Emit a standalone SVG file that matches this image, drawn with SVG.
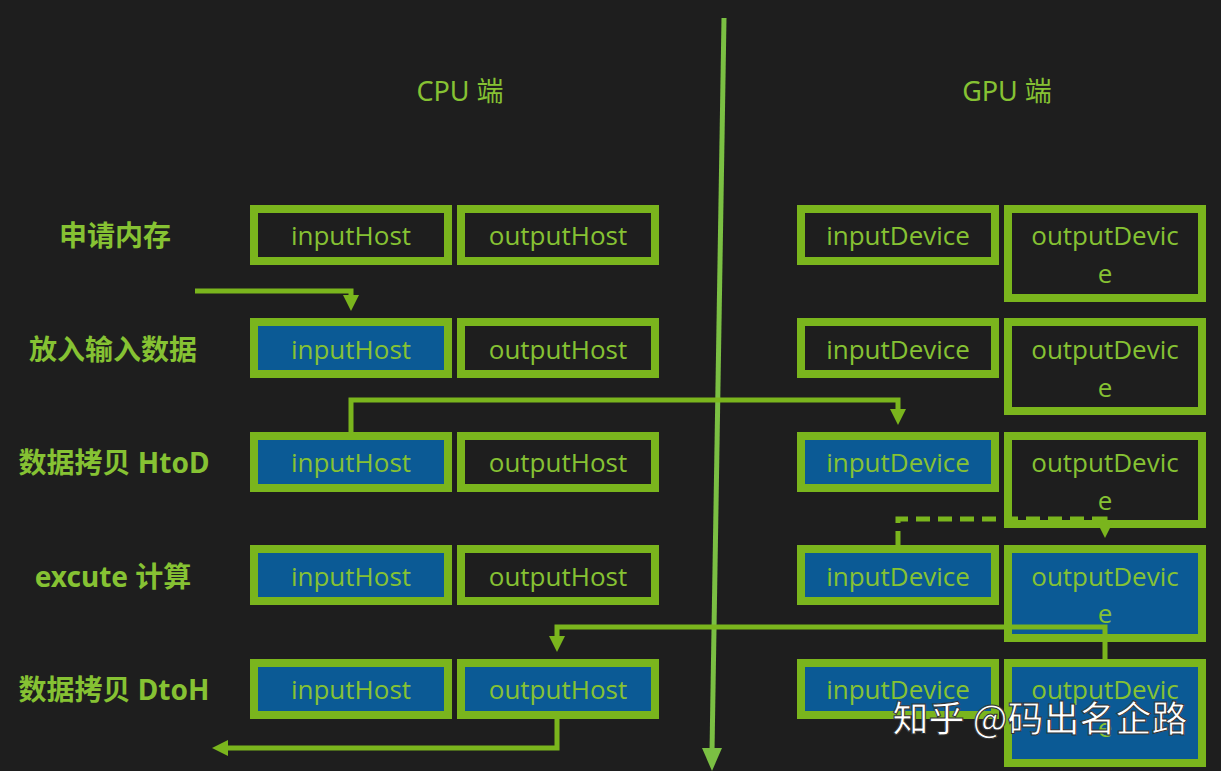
<svg xmlns="http://www.w3.org/2000/svg" width="1221" height="771" viewBox="0 0 1221 771">
<style>
.b{stroke:#7ab51d;stroke-width:8;fill:#1e1e1e}
.f{fill:#0b5a95}
.t{font-family:"Open Sans","Noto Sans",sans-serif;font-size:26px;fill:#86c233;text-anchor:middle}
.l{font-family:"Noto Sans","Noto Sans CJK SC",sans-serif;font-size:28px;font-weight:bold;fill:#86c233;text-anchor:middle}
.h{font-family:"Noto Sans","Noto Sans CJK SC",sans-serif;font-size:27px;fill:#86c233;text-anchor:middle}
.c{stroke:#7ab51d;stroke-width:5;fill:none}
</style>
<defs>
<marker id="ar" viewBox="0 0 10 10" refX="5" refY="5" markerWidth="16" markerHeight="16" orient="auto-start-reverse" markerUnits="userSpaceOnUse"><path d="M0,0L10,5L0,10z" fill="#7ab51d"/></marker></defs>
<rect width="1221" height="771" fill="#1e1e1e"/>
<text class="h" x="460" y="101">CPU 端</text>
<text class="h" x="1007" y="101">GPU 端</text>
<g id="labels">
<text class="l" x="115" y="246">申请内存</text>
<text class="l" x="113" y="360">放入输入数据</text>
<text class="l" x="114" y="473">数据拷贝 HtoD</text>
<text class="l" x="113" y="587">excute 计算</text>
<text class="l" x="114" y="700">数据拷贝 DtoH</text>
</g>
<g id="row1">
<g id="ih1"><rect class="b" x="254" y="209" width="194" height="52"/><text class="t" x="351" y="245">inputHost</text></g>
<g id="oh1"><rect class="b" x="461" y="209" width="194" height="52"/><text class="t" x="558" y="245">outputHost</text></g>
<g id="id1"><rect class="b" x="801" y="209" width="194" height="52"/><text class="t" x="898" y="245">inputDevice</text></g>
<g id="od1"><rect class="b" x="1008" y="209" width="194" height="89"/><text class="t" x="1105" y="245">outputDevic</text><text class="t" x="1105" y="283">e</text></g>
</g>
<g id="row2">
<g id="ih2"><rect class="b" x="254" y="322" width="194" height="52"/><rect class="f" x="258" y="326" width="186" height="44"/><text class="t" x="351" y="359">inputHost</text></g>
<g id="oh2"><rect class="b" x="461" y="322" width="194" height="52"/><text class="t" x="558" y="359">outputHost</text></g>
<g id="id2"><rect class="b" x="801" y="322" width="194" height="52"/><text class="t" x="898" y="359">inputDevice</text></g>
<g id="od2"><rect class="b" x="1008" y="322" width="194" height="89"/><text class="t" x="1105" y="359">outputDevic</text><text class="t" x="1105" y="397">e</text></g>
</g>
<g id="row3">
<g id="ih3"><rect class="b" x="254" y="436" width="194" height="52"/><rect class="f" x="258" y="440" width="186" height="44"/><text class="t" x="351" y="472">inputHost</text></g>
<g id="oh3"><rect class="b" x="461" y="436" width="194" height="52"/><text class="t" x="558" y="472">outputHost</text></g>
<g id="id3"><rect class="b" x="801" y="436" width="194" height="52"/><rect class="f" x="805" y="440" width="186" height="44"/><text class="t" x="898" y="472">inputDevice</text></g>
<g id="od3"><rect class="b" x="1008" y="436" width="194" height="88"/><text class="t" x="1105" y="472">outputDevic</text><text class="t" x="1105" y="510">e</text></g>
</g>
<g id="row4">
<g id="ih4"><rect class="b" x="254" y="549" width="194" height="52"/><rect class="f" x="258" y="553" width="186" height="44"/><text class="t" x="351" y="586">inputHost</text></g>
<g id="oh4"><rect class="b" x="461" y="549" width="194" height="52"/><text class="t" x="558" y="586">outputHost</text></g>
<g id="id4"><rect class="b" x="801" y="549" width="194" height="52"/><rect class="f" x="805" y="553" width="186" height="44"/><text class="t" x="898" y="586">inputDevice</text></g>
<g id="od4"><rect class="b" x="1008" y="549" width="194" height="89"/><rect class="f" x="1012" y="553" width="186" height="81"/><text class="t" x="1105" y="586">outputDevic</text><text class="t" x="1105" y="623">e</text></g>
</g>
<g id="row5">
<g id="ih5"><rect class="b" x="254" y="663" width="194" height="52"/><rect class="f" x="258" y="667" width="186" height="44"/><text class="t" x="351" y="699">inputHost</text></g>
<g id="oh5"><rect class="b" x="461" y="663" width="194" height="52"/><rect class="f" x="465" y="667" width="186" height="44"/><text class="t" x="558" y="699">outputHost</text></g>
<g id="id5"><rect class="b" x="801" y="663" width="194" height="52"/><rect class="f" x="805" y="667" width="186" height="44"/><text class="t" x="898" y="699">inputDevice</text></g>
<g id="od5"><rect class="b" x="1008" y="663" width="194" height="100"/><rect class="f" x="1012" y="667" width="186" height="92"/><text class="t" x="1105" y="699">outputDevic</text><text class="t" x="1105" y="737">e</text></g>
</g>
<g id="connectors">
<path d="M724,18L712,752" stroke="#7bc043" stroke-width="5" fill="none"/>
<path d="M702,748L722,748L712,771z" fill="#7bc043"/>
<path class="c" d="M195,291H351V303" marker-end="url(#ar)"/>
<path class="c" d="M351,432V400H898V417" marker-end="url(#ar)"/>
<path class="c" d="M898,545V519H1105V530" stroke-dasharray="14,8" marker-end="url(#ar)"/>
<path class="c" d="M1105,659V627H557V644" marker-end="url(#ar)"/>
<path class="c" d="M557,719V748H220" marker-end="url(#ar)"/>
</g>
<text x="1040" y="732" font-family="Noto Sans CJK SC,sans-serif" font-size="36" font-weight="500" fill="#fff" text-anchor="middle" stroke="#333" stroke-width="1">知乎 @码出名企路</text>
</svg>
